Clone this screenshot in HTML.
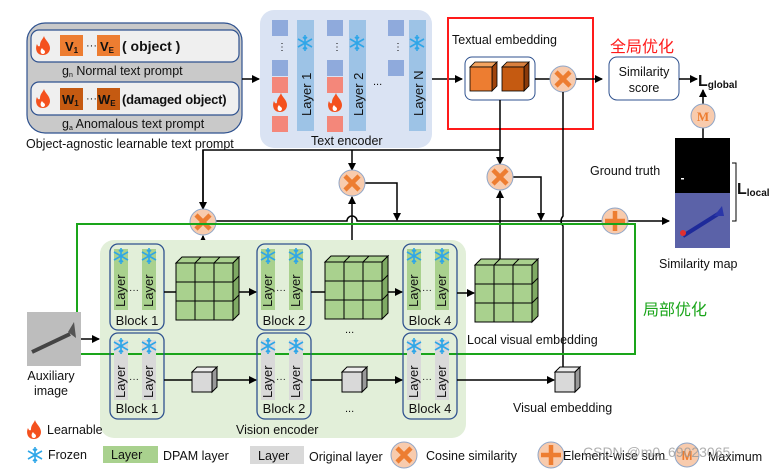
<!DOCTYPE html>
<html><head><meta charset="utf-8"><style>
html,body{margin:0;padding:0;background:#fff}
svg{display:block}
text{font-family:"Liberation Sans","Noto Sans CJK SC",sans-serif;fill:#111}
</style></head><body>
<svg width="775" height="470" viewBox="0 0 775 470" xmlns="http://www.w3.org/2000/svg">
<defs>
<marker id="ar" markerWidth="8" markerHeight="8" refX="7" refY="4" orient="auto" markerUnits="userSpaceOnUse"><path d="M0,0 L8,4 L0,8 z" fill="#000"/></marker>
<g id="grid">
<polygon points="0,0 6,-6 63,-6 57,0" fill="#a9d18e" stroke="#000" stroke-width="1"/>
<line x1="19" y1="0" x2="25" y2="-6" stroke="#000"/><line x1="38" y1="0" x2="44" y2="-6" stroke="#000"/>
<polygon points="57,0 63,-6 63,51 57,57" fill="#7faa64" stroke="#000"/>
<line x1="57" y1="19" x2="63" y2="13" stroke="#000"/><line x1="57" y1="38" x2="63" y2="32" stroke="#000"/>
<rect x="0" y="0" width="57" height="57" fill="#a9d18e" stroke="#000"/>
<line x1="19" y1="0" x2="19" y2="57" stroke="#000"/><line x1="38" y1="0" x2="38" y2="57" stroke="#000"/>
<line x1="0" y1="19" x2="57" y2="19" stroke="#000"/><line x1="0" y1="38" x2="57" y2="38" stroke="#000"/>
</g>
<g id="gcube">
<polygon points="0,0 5,-5 25,-5 20,0" fill="#eee" stroke="#000"/>
<polygon points="20,0 25,-5 25,15 20,20" fill="#999" stroke="#000"/>
<rect x="0" y="0" width="20" height="20" fill="#d9d9d9" stroke="#000"/>
</g>
<g id="cos"><circle r="13" fill="#f8cbad" stroke="#8fa6c8" stroke-width="1"/><path d="M-7,-7 L7,7 M7,-7 L-7,7" stroke="#ed7d31" stroke-width="4.5"/></g>
<g id="plus"><circle r="13" fill="#f8cbad" stroke="#8fa6c8"/><path d="M0,-10 L0,10 M-10,0 L10,0" stroke="#ed7d31" stroke-width="4.5"/></g>
<g id="snow" stroke="#2ea6e8" stroke-width="1.6" fill="none"><path d="M0,-8 V8 M-7,-4 L7,4 M-7,4 L7,-4 M-2,-6 L0,-4 L2,-6 M-2,6 L0,4 L2,6"/></g>
<g id="flame"><path d="M0,9 C-7,9 -8,2 -6,-2 C-5,1 -3,1 -3,-1 C-3,-5 0,-7 1,-10 C2,-6 7,-3 7,2 C7,6 4,9 0,9 Z" fill="#f4511e"/><path d="M0,8 C-3,8 -3,4 -1,2 C0,4 2,4 2,6 C2,7 1,8 0,8Z" fill="#fff"/></g>
<g id="vlayer"><rect x="0" y="0" width="14" height="61" fill="#a9d18e"/><text transform="translate(11,58) rotate(-90)" font-size="13">Layer</text></g>
<g id="glayer"><rect x="0" y="0" width="14" height="60" fill="#d9d9d9"/><text transform="translate(11,58) rotate(-90)" font-size="13">Layer</text></g>
</defs>

<rect x="27" y="23" width="215" height="110" rx="18" fill="#c9c9c9" stroke="#2f528f" stroke-width="1.2"/>
<rect x="31" y="30" width="208" height="32" rx="8" fill="#efefef" stroke="#2f528f" stroke-width="1.2"/>
<rect x="31" y="82" width="208" height="33" rx="8" fill="#efefef" stroke="#2f528f" stroke-width="1.2"/>
<use href="#flame" x="43" y="46"/><use href="#flame" x="43" y="99"/>
<rect x="60" y="35" width="23" height="21" fill="#ed7d31"/><text x="65" y="51" font-size="13" font-weight="bold">V<tspan font-size="8" dy="2">1</tspan></text>
<text x="86" y="49" font-size="11">···</text>
<rect x="97" y="35" width="23" height="21" fill="#ed7d31"/><text x="100" y="51" font-size="13" font-weight="bold">V<tspan font-size="8" dy="2">E</tspan></text>
<text x="122" y="51" font-size="14" font-weight="bold">( object  )</text>
<rect x="60" y="88" width="23" height="22" fill="#c55a11"/><text x="62" y="104" font-size="13" font-weight="bold">W<tspan font-size="8" dy="2">1</tspan></text>
<text x="86" y="102" font-size="11">···</text>
<rect x="97" y="88" width="23" height="22" fill="#c55a11"/><text x="98" y="104" font-size="13" font-weight="bold">W<tspan font-size="8" dy="2">E</tspan></text>
<text x="122" y="104" font-size="13" font-weight="bold" letter-spacing="-0.2">(damaged object)</text>
<text x="62" y="75" font-size="12.5">g<tspan font-size="7" dy="2">n</tspan><tspan dy="-2"> Normal text prompt</tspan></text>
<text x="62" y="128" font-size="12.5">g<tspan font-size="7" dy="2">a</tspan><tspan dy="-2"> Anomalous text prompt</tspan></text>
<text x="26" y="148" font-size="12.5">Object-agnostic learnable text prompt</text>
<line x1="242" y1="79" x2="259" y2="79" stroke="#000" stroke-width="1.5" marker-end="url(#ar)"/>

<rect x="260" y="10" width="172" height="138" rx="14" fill="#dae3f3"/>
<g fill="#8faadc">
<rect x="272" y="20" width="16" height="16"/><rect x="272" y="60" width="16" height="16"/>
<rect x="327" y="20" width="16" height="16"/><rect x="327" y="60" width="16" height="16"/>
<rect x="388" y="20" width="16" height="16"/><rect x="388" y="60" width="16" height="16"/>
</g>
<g fill="#f4877a">
<rect x="272" y="77" width="16" height="16"/><rect x="272" y="116" width="16" height="16"/>
<rect x="327" y="77" width="16" height="16"/><rect x="327" y="116" width="16" height="16"/>
</g>
<text x="277" y="50" font-size="10">⋮</text><text x="332" y="50" font-size="10">⋮</text><text x="393" y="50" font-size="10">⋮</text>
<use href="#flame" x="280" y="103"/><use href="#flame" x="335" y="103"/>
<g fill="#9dc3e6"><rect x="297" y="20" width="17" height="111"/><rect x="349" y="20" width="17" height="111"/><rect x="409" y="20" width="17" height="111"/></g>
<use href="#snow" x="305" y="43"/><use href="#snow" x="357" y="43"/><use href="#snow" x="417" y="43"/>
<text transform="translate(311,116) rotate(-90)" font-size="13">Layer 1</text>
<text transform="translate(363,116) rotate(-90)" font-size="13">Layer 2</text>
<text transform="translate(423,116) rotate(-90)" font-size="13">Layer N</text>
<text x="373" y="85" font-size="11">...</text>
<text x="311" y="145" font-size="12.5">Text encoder</text>
<line x1="432" y1="79" x2="462" y2="79" stroke="#000" stroke-width="1.5" marker-end="url(#ar)"/>

<rect x="448" y="18" width="145" height="111" fill="none" stroke="#ff1a1a" stroke-width="2"/>
<text x="452" y="44" font-size="12.5">Textual embedding</text>
<rect x="465" y="57" width="70" height="43" rx="7" fill="#fff" stroke="#2f528f"/>
<polygon points="470,67 475,62 497,62 492,67" fill="#f4a460" stroke="#000" stroke-width=".8"/>
<polygon points="492,67 497,62 497,86 492,91" fill="#a0440c" stroke="#000" stroke-width=".8"/>
<rect x="470" y="67" width="22" height="24" fill="#ed7d31" stroke="#000" stroke-width=".8"/>
<polygon points="502,67 507,62 529,62 524,67" fill="#d9803e" stroke="#000" stroke-width=".8"/>
<polygon points="524,67 529,62 529,86 524,91" fill="#8a3a0a" stroke="#000" stroke-width=".8"/>
<rect x="502" y="67" width="22" height="24" fill="#c55a11" stroke="#000" stroke-width=".8"/>
<line x1="535" y1="79" x2="550" y2="79" stroke="#000" stroke-width="1.5"/>
<use href="#cos" x="563" y="79"/>
<line x1="576" y1="79" x2="602" y2="79" stroke="#000" stroke-width="1.5" marker-end="url(#ar)"/>
<text x="610" y="52" font-size="16" style="fill:#ff1a1a">全局优化</text>
<rect x="609" y="57" width="70" height="43" rx="8" fill="#fff" stroke="#2f528f"/>
<text x="644" y="76" font-size="12.5" text-anchor="middle">Similarity</text>
<text x="644" y="92" font-size="12.5" text-anchor="middle">score</text>
<line x1="679" y1="79" x2="697" y2="79" stroke="#000" stroke-width="1.5" marker-end="url(#ar)"/>
<text x="698" y="86" font-size="16" font-weight="bold">L<tspan font-size="10" dy="2">global</tspan></text>
<line x1="703" y1="138" x2="703" y2="90" stroke="#000" stroke-width="1.5" marker-end="url(#ar)"/>
<circle cx="703" cy="116" r="12" fill="#f8cbad" stroke="#8fa6c8"/>
<text x="703" y="121" font-size="13" font-weight="bold" text-anchor="middle" style="fill:#ed7d31;font-family:'Liberation Serif',serif">M</text>
<rect x="675" y="138" width="55" height="55" fill="#000"/>
<rect x="681" y="178" width="3" height="1.5" fill="#fff"/>
<rect x="675" y="193" width="55" height="55" fill="#5b62a8"/>
<path d="M683,236 L718,214" stroke="#1e2a9a" stroke-width="4"/><path d="M714,216 L722,206 L724,216 Z" fill="#2a36a8"/>
<circle cx="683" cy="233" r="3" fill="#e03030"/>
<path d="M732,163 H736 V221 H732" fill="none" stroke="#000"/>
<text x="737" y="194" font-size="16" font-weight="bold">L<tspan font-size="10" dy="2">local</tspan></text>
<text x="590" y="175" font-size="12.5">Ground truth</text>
<text x="659" y="268" font-size="12.5">Similarity map</text>

<g stroke="#000" stroke-width="1.5" fill="none">
<path d="M203,209 V150 H500"/>
<line x1="203" y1="150" x2="203" y2="209" marker-end="url(#ar)"/>
<line x1="352" y1="150" x2="352" y2="170" marker-end="url(#ar)"/>
<line x1="500" y1="100" x2="500" y2="164" marker-end="url(#ar)"/>
<path d="M365,183 H397 V220" marker-end="url(#ar)"/>
<path d="M513,177 H541 V220" marker-end="url(#ar)"/>
<path d="M216,221 H347 A5,5 0 0 1 357,221 H602"/>
<line x1="628" y1="221" x2="669" y2="221" marker-end="url(#ar)"/>
<line x1="203" y1="258" x2="203" y2="236" marker-end="url(#ar)"/>
<line x1="352" y1="258" x2="352" y2="197" marker-end="url(#ar)"/>
<line x1="500" y1="260" x2="500" y2="191" marker-end="url(#ar)"/>
<path d="M563,92 V216 Q559,221 563,226 V370"/>
</g>
<use href="#cos" x="203" y="222"/>
<use href="#cos" x="352" y="183"/>
<use href="#cos" x="500" y="177"/>
<use href="#plus" x="615" y="221"/>

<rect x="100" y="240" width="366" height="198" rx="14" fill="#e2efd9"/>
<rect x="77" y="224" width="558" height="130" fill="none" stroke="#1aa51a" stroke-width="2"/>
<text x="643" y="315" font-size="16" style="fill:#1aa51a">局部优化</text>

<g stroke="#2f528f" stroke-width="1.3" fill="none">
<rect x="110" y="244" width="54" height="86" rx="8"/><rect x="257" y="244" width="54" height="86" rx="8"/><rect x="403" y="244" width="54" height="86" rx="8"/>
<rect x="110" y="333" width="54" height="86" rx="8"/><rect x="257" y="333" width="54" height="86" rx="8"/><rect x="403" y="333" width="54" height="86" rx="8"/>
</g>
<use href="#vlayer" x="114" y="249"/><use href="#vlayer" x="142" y="249"/>
<use href="#vlayer" x="261" y="249"/><use href="#vlayer" x="289" y="249"/>
<use href="#vlayer" x="407" y="249"/><use href="#vlayer" x="435" y="249"/>
<use href="#glayer" x="114" y="340"/><use href="#glayer" x="142" y="340"/>
<use href="#glayer" x="261" y="340"/><use href="#glayer" x="289" y="340"/>
<use href="#glayer" x="407" y="340"/><use href="#glayer" x="435" y="340"/>
<use href="#snow" x="121" y="256"/><use href="#snow" x="149" y="256"/>
<use href="#snow" x="268" y="256"/><use href="#snow" x="296" y="256"/>
<use href="#snow" x="414" y="256"/><use href="#snow" x="442" y="256"/>
<use href="#snow" x="121" y="346"/><use href="#snow" x="149" y="346"/>
<use href="#snow" x="268" y="346"/><use href="#snow" x="296" y="346"/>
<use href="#snow" x="414" y="346"/><use href="#snow" x="442" y="346"/>
<g font-size="10"><text x="129" y="293">···</text><text x="276" y="293">···</text><text x="422" y="293">···</text>
<text x="129" y="382">···</text><text x="276" y="382">···</text><text x="422" y="382">···</text></g>
<g font-size="13" text-anchor="middle">
<text x="137" y="325">Block 1</text><text x="284" y="325">Block 2</text><text x="430" y="325">Block 4</text>
<text x="137" y="413">Block 1</text><text x="284" y="413">Block 2</text><text x="430" y="413">Block 4</text>
</g>
<use href="#grid" x="176" y="263"/><use href="#grid" x="325" y="262"/><use href="#grid" x="475" y="265"/>
<text x="345" y="333" font-size="11">...</text>
<g stroke="#000" stroke-width="1.5">
<line x1="164" y1="292" x2="176" y2="292"/>
<line x1="239" y1="292" x2="256" y2="292" marker-end="url(#ar)"/>
<line x1="311" y1="292" x2="325" y2="292"/>
<line x1="388" y1="292" x2="402" y2="292" marker-end="url(#ar)"/>
<line x1="457" y1="293" x2="474" y2="293" marker-end="url(#ar)"/>
<line x1="164" y1="380" x2="192" y2="380"/>
<line x1="217" y1="380" x2="256" y2="380" marker-end="url(#ar)"/>
<line x1="311" y1="380" x2="342" y2="380"/>
<line x1="367" y1="380" x2="402" y2="380" marker-end="url(#ar)"/>
<line x1="457" y1="380" x2="554" y2="380" marker-end="url(#ar)"/>
<line x1="80" y1="339" x2="99" y2="339" marker-end="url(#ar)"/>
</g>
<use href="#gcube" x="192" y="372"/><use href="#gcube" x="342" y="372"/><use href="#gcube" x="555" y="372"/>
<text x="345" y="412" font-size="11">...</text>
<text x="467" y="344" font-size="12.5">Local visual embedding</text>
<text x="513" y="412" font-size="12.5">Visual embedding</text>
<text x="236" y="434" font-size="12.5">Vision encoder</text>

<rect x="27" y="312" width="54" height="54" fill="#bdbdbd"/>
<path d="M32,352 L70,334" stroke="#444" stroke-width="4"/><path d="M68,332 L74,322 L76,338 Z" fill="#555"/>
<text x="51" y="380" font-size="12.5" text-anchor="middle">Auxiliary</text>
<text x="51" y="395" font-size="12.5" text-anchor="middle">image</text>

<use href="#flame" x="34" y="430"/><text x="47" y="434" font-size="12.5">Learnable</text>
<use href="#snow" x="35" y="455"/><text x="48" y="459" font-size="12.5">Frozen</text>
<rect x="103" y="446" width="55" height="17" fill="#a9d18e"/><text x="111" y="459" font-size="12.5">Layer</text>
<text x="163" y="460" font-size="12.5">DPAM layer</text>
<rect x="250" y="446" width="54" height="18" fill="#d9d9d9"/><text x="258" y="460" font-size="12.5">Layer</text>
<text x="309" y="461" font-size="12.5">Original layer</text>
<use href="#cos" x="404" y="455"/><text x="426" y="460" font-size="12.5">Cosine similarity</text>
<use href="#plus" x="551" y="455"/><text x="563" y="460" font-size="12.5">Element-wise sum</text>
<circle cx="687" cy="455" r="12" fill="#f8cbad" stroke="#8fa6c8"/>
<text x="687" y="460" font-size="13" font-weight="bold" text-anchor="middle" style="fill:#ed7d31">M</text>
<text x="708" y="461" font-size="12.5">Maximum</text>
<text x="583" y="457" font-size="14" style="fill:#9a9a9a;opacity:.8">CSDN @m0_69023065</text>
</svg>
</body></html>
